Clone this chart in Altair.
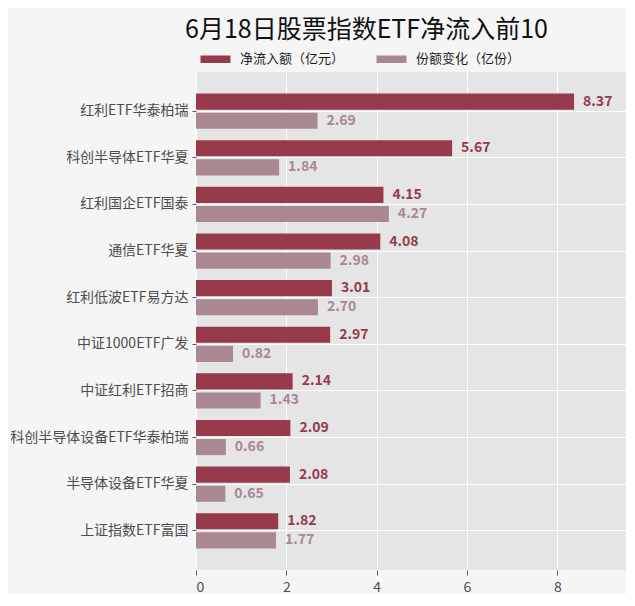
import altair as alt
import pandas as pd

names = ["红利ETF华泰柏瑞", "科创半导体ETF华夏", "红利国企ETF国泰", "通信ETF华夏",
         "红利低波ETF易方达", "中证1000ETF广发", "中证红利ETF招商",
         "科创半导体设备ETF华泰柏瑞", "半导体设备ETF华夏", "上证指数ETF富国"]
inflow = [8.37, 5.67, 4.15, 4.08, 3.01, 2.97, 2.14, 2.09, 2.08, 1.82]
shares = [2.69, 1.84, 4.27, 2.98, 2.70, 0.82, 1.43, 0.66, 0.65, 1.77]
series = ["净流入额（亿元）", "份额变化（亿份）"]
colors = ["#963A4C", "#A98890"]
x_ticks = [0, 2, 4, 6, 8]
title = "6月18日股票指数ETF净流入前10"

rows = []
for n, a, b in zip(names, inflow, shares):
    rows.append({"name": n, "series": series[0], "value": a})
    rows.append({"name": n, "series": series[1], "value": b})
df = pd.DataFrame(rows)

FONT = "Noto Sans CJK SC"

y_enc = alt.Y("name:N", sort=names, title=None,
              scale=alt.Scale(paddingInner=0, paddingOuter=0.34),
              axis=alt.Axis(bandPosition=0.5, grid=True, gridColor="white", gridWidth=1,
                            domain=False, ticks=True, tickSize=4, tickColor="#555555",
                            labelFontSize=14, labelColor="#4d4d4d", labelPadding=4,
                            labelFont=FONT))
yoff = alt.YOffset("series:N", sort=series,
                   scale=alt.Scale(paddingInner=0.158, paddingOuter=0.30))
x_enc = alt.X("value:Q", title=None,
              scale=alt.Scale(domain=[0, 9.52], nice=False, zero=True),
              axis=alt.Axis(values=x_ticks, grid=True, gridColor="white", gridWidth=1,
                            domain=False, ticks=True, tickSize=5, tickColor="#555555",
                            labelFontSize=14, labelColor="#4d4d4d", labelPadding=5,
                            labelFont=FONT, format="d"))
color = alt.Color("series:N", sort=series,
                  scale=alt.Scale(domain=series, range=colors),
                  legend=alt.Legend(title=None, orient="none", direction="horizontal",
                                    legendX=12, legendY=-20.5,
                                    symbolType="M-2,-0.5H2V0.5H-2Z", symbolSize=225,
                                    symbolStrokeWidth=0, symbolOpacity=1,
                                    labelOffset=17, columnPadding=31,
                                    labelFontSize=13, labelColor="#1a1a1a", labelFont=FONT,
                                    padding=0))

bars = alt.Chart(df).mark_bar(opacity=1).encode(
    x=x_enc, y=y_enc, yOffset=yoff, color=color)

labels = alt.Chart(df).mark_text(align="left", baseline="middle", dx=9,
                                 fontSize=14, fontWeight="bold", font=FONT).encode(
    x="value:Q", y=alt.Y("name:N", sort=names), yOffset=yoff,
    text=alt.Text("value:Q", format=".2f"),
    color=alt.Color("series:N", sort=series, scale=alt.Scale(domain=series, range=colors),
                    legend=None))

chart = alt.layer(bars, labels).properties(
    width=430, height=498,
    title=alt.TitleParams(title, anchor="start", frame="group", dx=-11, offset=9,
                          fontSize=25, fontWeight="normal", font=FONT, color="#111111"),
    autosize=alt.AutoSizeParams(type="none"),
    padding={"left": 188, "top": 64, "right": 0, "bottom": 24},
    background="#f5f5f5",
).configure_view(fill="#e5e5e5", stroke=None)

chart.save("out.html", embed_options={"renderer": "svg", "actions": False})
